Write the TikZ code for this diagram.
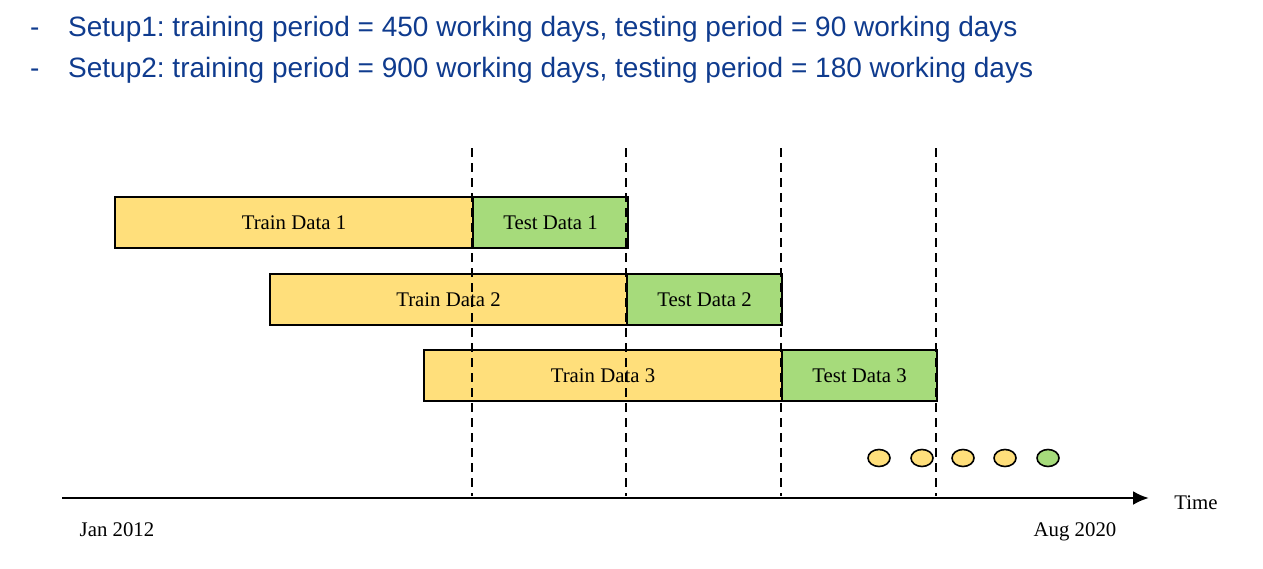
\documentclass[tikz,border=0pt]{standalone}
\usepackage{fontspec}
\setmainfont{Liberation Serif}
\newfontfamily\headfont{Liberation Sans}
\usetikzlibrary{arrows.meta,shapes.geometric}
\definecolor{trainY}{HTML}{FFDF7B}
\definecolor{testG}{HTML}{A6DB7B}
\definecolor{headBlue}{HTML}{0F3B8E}
\frenchspacing
\tikzset{
  x=1pt, y=-1pt,
  databox/.style={draw=black, line width=2pt, minimum height=51pt, inner sep=0pt, font=\fontsize{20.8}{23}\selectfont, anchor=north west},
  trainbox/.style={databox, fill=trainY},
  testbox/.style={databox, fill=testG},
  divider/.style={line width=2pt, dash pattern=on 9pt off 6pt},
  dot/.style={ellipse, draw=black, line width=1.6pt, minimum width=22pt, minimum height=17pt, inner sep=0pt},
  headline/.style={anchor=base west, text=headBlue, font=\headfont\fontsize{28}{30}\selectfont, inner sep=0pt},
  axislabel/.style={font=\fontsize{20.8}{23}\selectfont, inner sep=0pt, anchor=base}
}
\begin{document}
\begin{tikzpicture}
\useasboundingbox (0,0) rectangle (1263,568);
% header
\node[headline] (d1) at (30,36) {-};
\node[headline] (h1) at (68,36) {Setup1: training period = 450 working days, testing period = 90 working days};
\node[headline] (d2) at (30,77) {-};
\node[headline] (h2) at (68,77) {Setup2: training period = 900 working days, testing period = 180 working days};
% boxes
\node[trainbox, minimum width=358pt] (tr1) at (114,196) {Train Data 1};
\node[testbox, minimum width=155pt] (te1) at (472,196) {Test Data 1};
\node[trainbox, minimum width=357pt] (tr2) at (269,273) {Train Data 2};
\node[testbox, minimum width=155pt] (te2) at (626,273) {Test Data 2};
\node[trainbox, minimum width=358pt] (tr3) at (423,349) {Train Data 3};
\node[testbox, minimum width=155pt] (te3) at (781,349) {Test Data 3};
% dividers
\coordinate (v1t) at (472,148); \coordinate (v1b) at (472,496);
\coordinate (v2t) at (626,148); \coordinate (v2b) at (626,496);
\coordinate (v3t) at (781,148); \coordinate (v3b) at (781,496);
\coordinate (v4t) at (936,148); \coordinate (v4b) at (936,496);
\draw[divider] (v1t) -- (v1b);
\draw[divider] (v2t) -- (v2b);
\draw[divider] (v3t) -- (v3b);
\draw[divider] (v4t) -- (v4b);
% dots
\node[dot, fill=trainY] (e1) at (879,458) {};
\node[dot, fill=trainY] (e2) at (922,458) {};
\node[dot, fill=trainY] (e3) at (963,458) {};
\node[dot, fill=trainY] (e4) at (1005,458) {};
\node[dot, fill=testG] (e5) at (1048,458) {};
% axis
\coordinate (a0) at (62,498);
\coordinate (a1) at (1149,498);
\draw[line width=2.6pt, -{Latex[length=16pt,width=14pt]}] (a0) -- (a1);
\node[axislabel] (time) at (1196,509) {Time};
\node[axislabel] (jan) at (117,536) {Jan 2012};
\node[axislabel] (aug) at (1075,536) {Aug 2020};
\end{tikzpicture}
\end{document}
